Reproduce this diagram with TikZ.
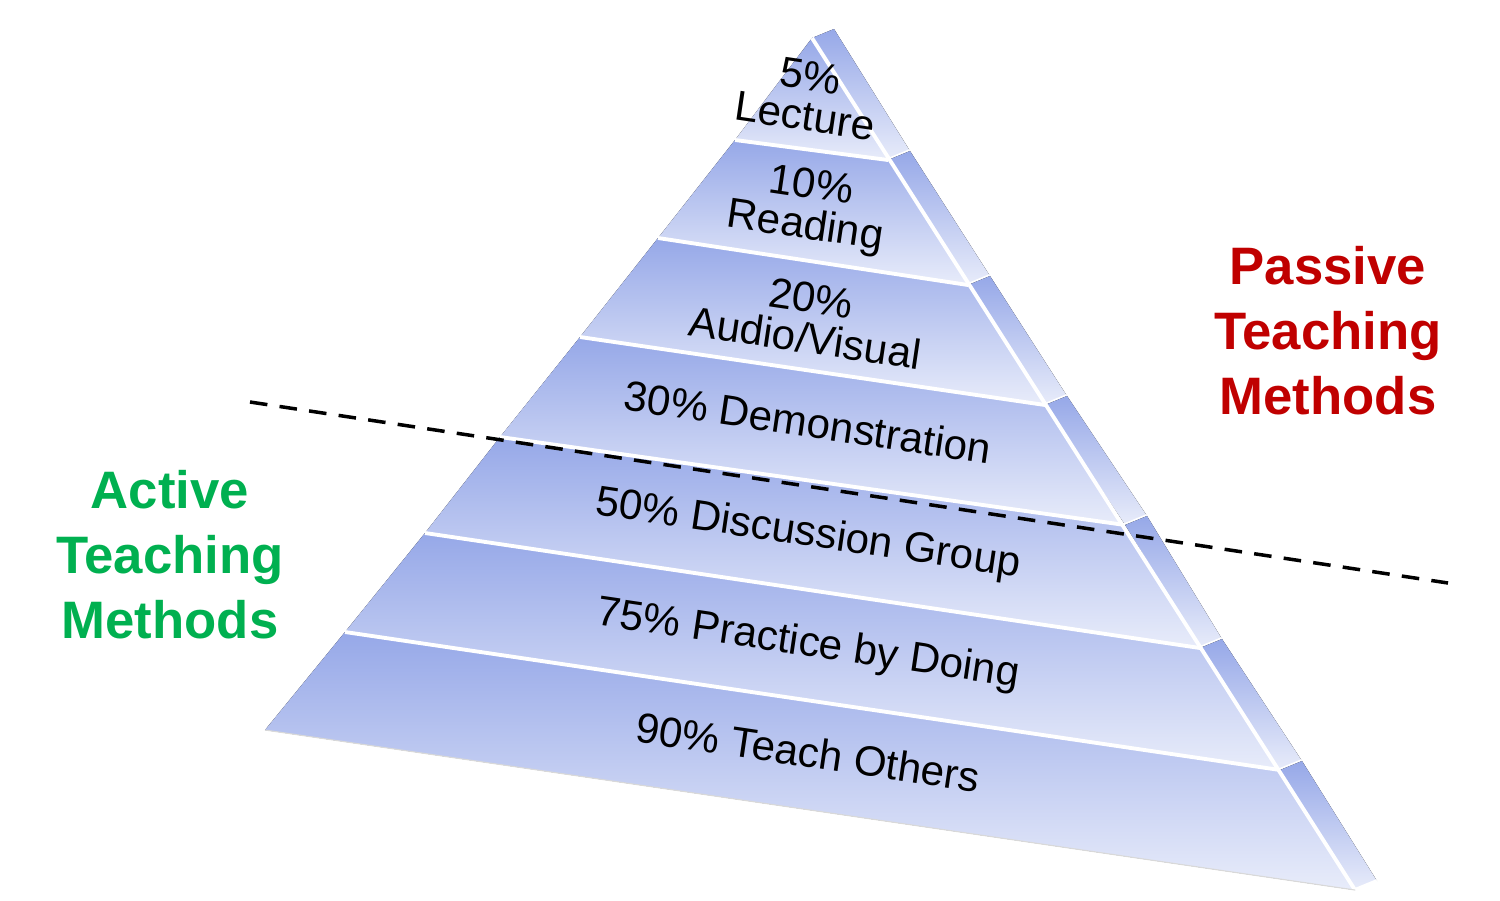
\documentclass[tikz,border=0pt]{standalone}
\usepackage{fontspec}
\setmainfont{Liberation Sans}
\definecolor{bandtop}{RGB}{150,168,232}
\definecolor{bandbot}{RGB}{232,236,250}
\begin{document}
\begin{tikzpicture}[x=0.02cm,y=-0.02cm,
  band/.style={top color=bandtop, bottom color=bandbot},
  side/.style={top color=bandtop, bottom color=bandbot},
  sep/.style={white, line width=2.2pt},
  lab/.style={font=\fontsize{24}{25}\selectfont, rotate=-8.4, align=center, inner sep=0},
  big/.style={font=\bfseries\fontsize{30}{37}\selectfont, align=center}]
\useasboundingbox (0,0) rectangle (1500,900);
\coordinate (A) at (812,38);
\coordinate (L1) at (735,140); \coordinate (R1) at (888,160);
\coordinate (L2) at (658,238); \coordinate (R2) at (968,285);
\coordinate (L3) at (580,337); \coordinate (R3) at (1045,405);
\coordinate (L4) at (500,437); \coordinate (R4) at (1125,525);
\coordinate (L5) at (425,533); \coordinate (R5) at (1200,648);
\coordinate (L6) at (345,632); \coordinate (R6) at (1280,770);
\coordinate (L7) at (265,730); \coordinate (R7) at (1355,890);
% side strip
\foreach \a/\b in {A/R1,R1/R2,R2/R3,R3/R4,R4/R5,R5/R6,R6/R7}{
  \fill[side] (\a) -- ([shift={(22,-9)}]\a) -- ([shift={(22,-9)}]\b) -- (\b) -- cycle;
  \draw[sep] (\b) -- ([shift={(22,-9)}]\b);
}
% front bands
\fill[band] (A) -- (R1) -- (L1) -- cycle;
\foreach \i/\j in {1/2,2/3,3/4,4/5,5/6,6/7}{
  \fill[band] (L\i) -- (R\i) -- (R\j) -- (L\j) -- cycle;
}
\foreach \i in {1,...,6}{ \draw[sep] (L\i) -- (R\i); }
\draw[sep] (A) -- (R7);
\draw[white!85!black, line width=0.6pt] (L7) -- (R7);
% dashed divider
\coordinate (D1) at (250,402); \coordinate (D2) at (1448,583);
\draw[black, line width=2pt, dash pattern=on 10pt off 7pt] (D1) -- (D2);
% labels
\node[lab] (t1) at (808,96) {5\%\\[-2pt]Lecture};
\node[lab] (t2) at (808,208) {10\%\\[-2pt]Reading};
\node[lab] (t3) at (808,318) {20\%\\[-2pt]Audio/Visual};
\node[lab] (t4) at (808,422) {30\% Demonstration};
\node[lab] (t5) at (808,535) {50\% Discussion Group};
\node[lab] (t6) at (808,645) {75\% Practice by Doing};
\node[lab] (t7) at (808,752) {90\% Teach Others};
\node[big, text={rgb,255:red,192;green,0;blue,0}] (p) at (1328,331) {Passive\\Teaching\\Methods};
\node[big, text={rgb,255:red,0;green,176;blue,80}] (a) at (170,555) {Active\\Teaching\\Methods};
\end{tikzpicture}
\end{document}
